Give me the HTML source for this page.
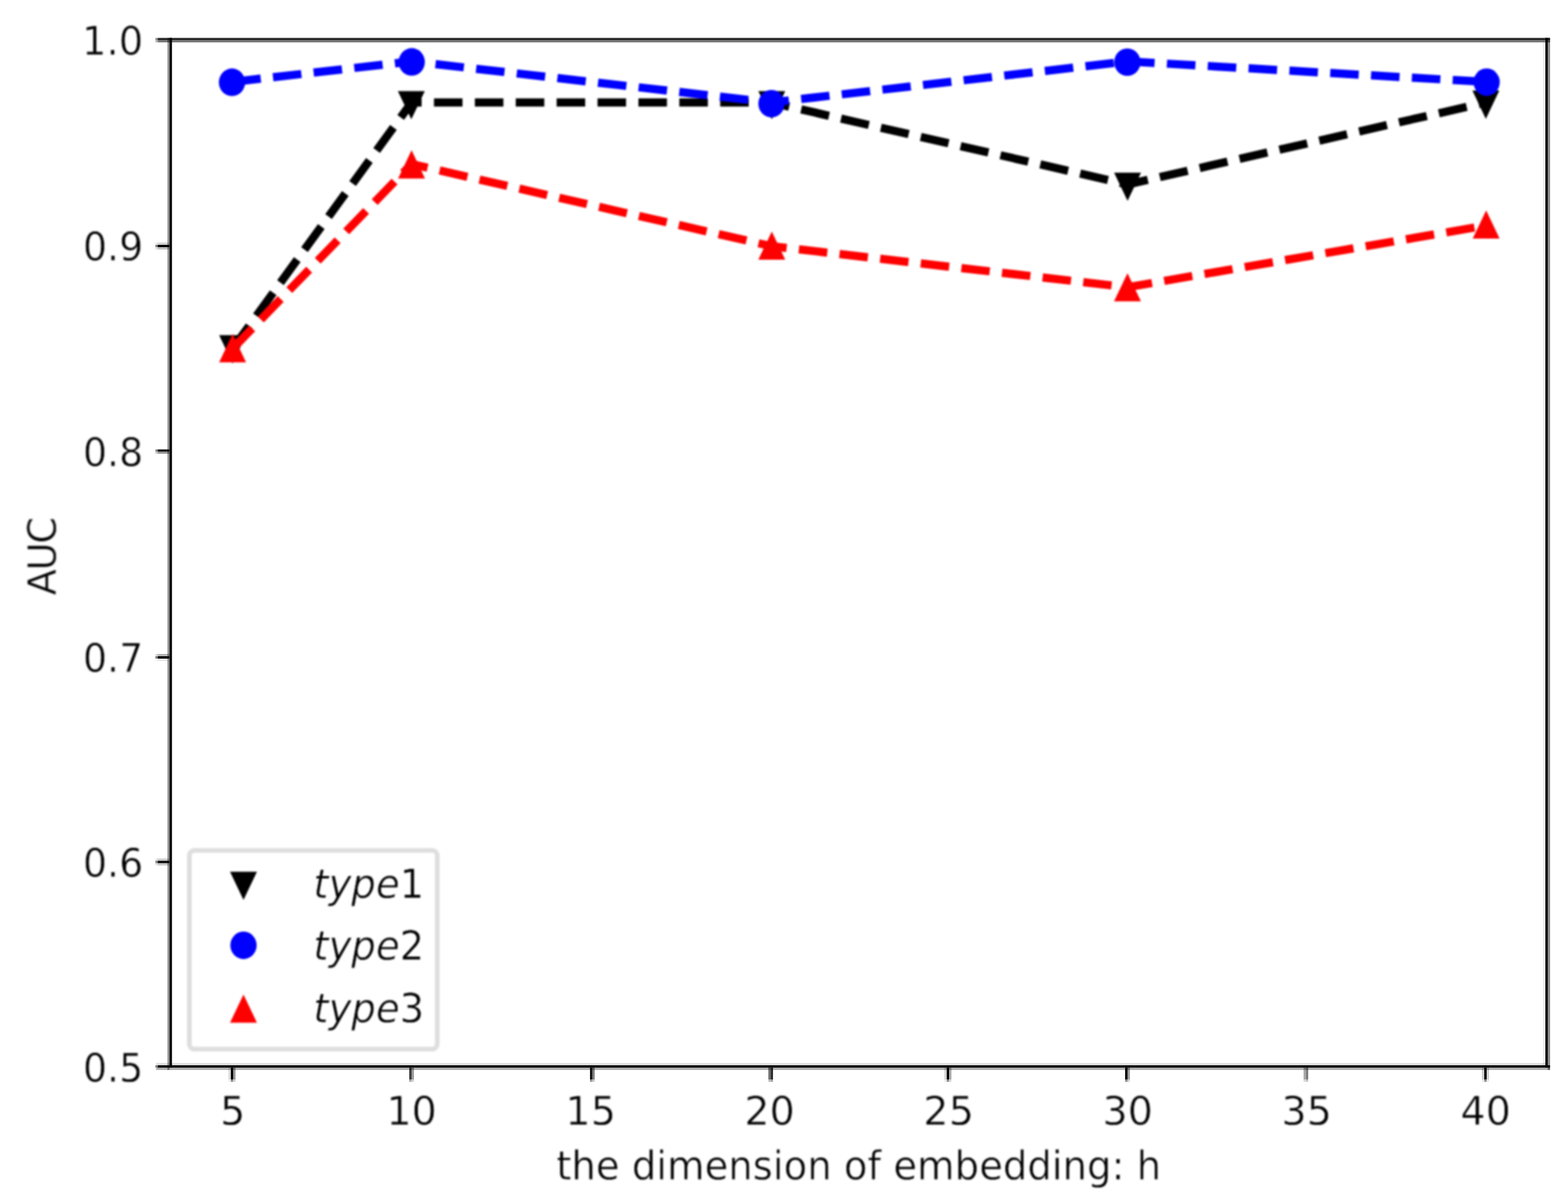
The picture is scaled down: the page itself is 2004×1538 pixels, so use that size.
<!DOCTYPE html>
<html lang="en"><head><meta charset="utf-8"><title>AUC vs the dimension of embedding</title>
<style>html,body{margin:0;padding:0;background:#fff;}body{width:2004px;height:1538px;overflow:hidden;}svg{display:block;}text{font-family:"DejaVu Sans","Liberation Sans",sans-serif;font-size:49.3px;fill:#000;stroke:#fff;stroke-width:0.7px;text-rendering:geometricPrecision;}.it{font-style:italic;}</style></head><body>
<svg width="2004" height="1538" viewBox="0 0 2004 1538" role="img" aria-label="AUC versus the dimension of embedding h for type1, type2 and type3">
<defs><filter id="soft" filterUnits="userSpaceOnUse" x="0" y="0" width="2004" height="1538" color-interpolation-filters="sRGB"><feGaussianBlur stdDeviation="1.1"/></filter><filter id="crisp" filterUnits="userSpaceOnUse" x="0" y="0" width="2004" height="1538" color-interpolation-filters="sRGB"><feGaussianBlur stdDeviation="0.55"/></filter></defs>
<rect x="0" y="0" width="2004" height="1538" fill="#ffffff"/>
<g filter="url(#soft)">
<g id="series">
<polyline points="297.0,446.0 526.0,131.0 985.6,131.0 1441.0,235.9 1899.0,131.0" fill="none" stroke="#000000" stroke-width="10.50" stroke-dasharray="36.48 15.78" stroke-linejoin="round" stroke-linecap="butt"/>
<polygon points="297.3,464.7 280.1,428.6 314.5,428.6" fill="#000000"/>
<polygon points="525.7,152.6 508.5,116.5 542.9,116.5" fill="#000000"/>
<polygon points="986.4,152.6 969.2,116.5 1003.6,116.5" fill="#000000"/>
<polygon points="1441.1,256.8 1423.9,220.7 1458.3,220.7" fill="#000000"/>
<polygon points="1899.0,151.9 1881.8,115.8 1916.2,115.8" fill="#000000"/>
<polyline points="297.0,104.7 526.0,78.5 985.6,131.0 1441.0,78.5 1899.0,104.7" fill="none" stroke="#0000ff" stroke-width="10.50" stroke-dasharray="36.48 15.78" stroke-linejoin="round" stroke-linecap="butt"/>
<ellipse cx="296.5" cy="105.2" rx="16.8" ry="17.6" fill="#0000ff"/>
<ellipse cx="526.2" cy="79.2" rx="16.8" ry="17.6" fill="#0000ff"/>
<ellipse cx="986.0" cy="132.6" rx="16.8" ry="17.6" fill="#0000ff"/>
<ellipse cx="1440.8" cy="79.5" rx="16.8" ry="17.6" fill="#0000ff"/>
<ellipse cx="1900.0" cy="105.1" rx="16.8" ry="17.6" fill="#0000ff"/>
<polyline points="297.0,446.0 526.0,209.7 985.6,314.7 1441.0,367.2 1899.0,288.4" fill="none" stroke="#ff0000" stroke-width="10.50" stroke-dasharray="36.48 15.78" stroke-linejoin="round" stroke-linecap="butt"/>
<polygon points="297.3,427.1 280.1,463.2 314.5,463.2" fill="#ff0000"/>
<polygon points="526.0,192.1 508.8,228.2 543.2,228.2" fill="#ff0000"/>
<polygon points="986.4,295.9 969.2,332.0 1003.6,332.0" fill="#ff0000"/>
<polygon points="1441.0,349.2 1423.8,385.3 1458.2,385.3" fill="#ff0000"/>
<polygon points="1899.4,268.9 1882.2,305.0 1916.6,305.0" fill="#ff0000"/>
</g>
<g id="ticklabels">
<text transform="translate(297.3,1438.4) scale(1.03)" text-anchor="middle">5</text>
<text transform="translate(526.1,1438.4) scale(1.03)" text-anchor="middle">10</text>
<text transform="translate(754.9,1438.4) scale(1.03)" text-anchor="middle">15</text>
<text transform="translate(983.6,1438.4) scale(1.03)" text-anchor="middle">20</text>
<text transform="translate(1212.4,1438.4) scale(1.03)" text-anchor="middle">25</text>
<text transform="translate(1441.2,1438.4) scale(1.03)" text-anchor="middle">30</text>
<text transform="translate(1670.0,1438.4) scale(1.03)" text-anchor="middle">35</text>
<text transform="translate(1898.8,1438.4) scale(1.03)" text-anchor="middle">40</text>
<text transform="translate(183.1,1382.7) scale(1,1.03)" text-anchor="end" textLength="77.2" lengthAdjust="spacingAndGlyphs">0.5</text>
<text transform="translate(183.1,1120.7) scale(1,1.03)" text-anchor="end" textLength="77.2" lengthAdjust="spacingAndGlyphs">0.6</text>
<text transform="translate(183.1,858.6) scale(1,1.03)" text-anchor="end" textLength="77.2" lengthAdjust="spacingAndGlyphs">0.7</text>
<text transform="translate(183.1,595.5) scale(1,1.03)" text-anchor="end" textLength="77.2" lengthAdjust="spacingAndGlyphs">0.8</text>
<text transform="translate(183.1,333.4) scale(1,1.03)" text-anchor="end" textLength="77.2" lengthAdjust="spacingAndGlyphs">0.9</text>
<text transform="translate(183.1,69.9) scale(1,1.03)" text-anchor="end" textLength="78.4">1.0</text>
</g>
<g id="labels">
<text transform="translate(1097.5,1507.8) scale(1,1.04)" text-anchor="middle">the dimension of embedding: h</text>
<text transform="translate(71.3,710.9) rotate(-90) scale(1,1.02)" text-anchor="middle" textLength="100.5" lengthAdjust="spacing">AUC</text>
</g>
<g id="legend">
<rect x="242.0" y="1087.2" width="316.8" height="254.1" rx="6.5" ry="6.5" fill="#ffffff" fill-opacity="0.8" stroke="#dedede" stroke-width="6"/>
<polygon points="311.2,1150.5 294.0,1114.4 328.4,1114.4" fill="#000000"/>
<text transform="translate(400.6,1148) scale(1,1.05)"><tspan class="it">type</tspan>1</text>
<ellipse cx="311.2" cy="1208.6" rx="16.8" ry="17.6" fill="#0000ff"/>
<text transform="translate(400.6,1227) scale(1,1.05)"><tspan class="it">type</tspan>2</text>
<polygon points="311.2,1271.5 294.0,1307.6 328.4,1307.6" fill="#ff0000"/>
<text transform="translate(400.6,1307) scale(1,1.05)"><tspan class="it">type</tspan>3</text>
</g>
</g>
<g id="axes" filter="url(#crisp)">
<rect x="292.00" y="1365.00" width="3.00" height="15.00" fill="#000" fill-opacity="0.15"/>
<rect x="292.00" y="1380.00" width="3.00" height="3.00" fill="#000" fill-opacity="0.07"/>
<rect x="295.00" y="1365.00" width="3.00" height="15.00" fill="#000" fill-opacity="1.0"/>
<rect x="295.00" y="1380.00" width="3.00" height="3.00" fill="#000" fill-opacity="0.45"/>
<rect x="298.00" y="1365.00" width="3.00" height="15.00" fill="#000" fill-opacity="0.4"/>
<rect x="298.00" y="1380.00" width="3.00" height="3.00" fill="#000" fill-opacity="0.18"/>
<rect x="523.00" y="1365.00" width="3.00" height="15.00" fill="#000" fill-opacity="0.75"/>
<rect x="523.00" y="1380.00" width="3.00" height="3.00" fill="#000" fill-opacity="0.34"/>
<rect x="526.00" y="1365.00" width="3.00" height="15.00" fill="#000" fill-opacity="0.4"/>
<rect x="526.00" y="1380.00" width="3.00" height="3.00" fill="#000" fill-opacity="0.18"/>
<rect x="754.00" y="1365.00" width="3.00" height="15.00" fill="#000" fill-opacity="0.9"/>
<rect x="754.00" y="1380.00" width="3.00" height="3.00" fill="#000" fill-opacity="0.41"/>
<rect x="757.00" y="1365.00" width="3.00" height="15.00" fill="#000" fill-opacity="0.5"/>
<rect x="757.00" y="1380.00" width="3.00" height="3.00" fill="#000" fill-opacity="0.23"/>
<rect x="982.00" y="1365.00" width="3.00" height="15.00" fill="#000" fill-opacity="0.55"/>
<rect x="982.00" y="1380.00" width="3.00" height="3.00" fill="#000" fill-opacity="0.25"/>
<rect x="985.00" y="1365.00" width="3.00" height="15.00" fill="#000" fill-opacity="0.8"/>
<rect x="985.00" y="1380.00" width="3.00" height="3.00" fill="#000" fill-opacity="0.36"/>
<rect x="1207.00" y="1365.00" width="3.00" height="15.00" fill="#000" fill-opacity="0.17"/>
<rect x="1207.00" y="1380.00" width="3.00" height="3.00" fill="#000" fill-opacity="0.08"/>
<rect x="1210.00" y="1365.00" width="3.00" height="15.00" fill="#000" fill-opacity="1.0"/>
<rect x="1210.00" y="1380.00" width="3.00" height="3.00" fill="#000" fill-opacity="0.45"/>
<rect x="1213.00" y="1365.00" width="3.00" height="15.00" fill="#000" fill-opacity="0.33"/>
<rect x="1213.00" y="1380.00" width="3.00" height="3.00" fill="#000" fill-opacity="0.15"/>
<rect x="1438.00" y="1365.00" width="3.00" height="15.00" fill="#000" fill-opacity="1.0"/>
<rect x="1438.00" y="1380.00" width="3.00" height="3.00" fill="#000" fill-opacity="0.45"/>
<rect x="1441.00" y="1365.00" width="3.00" height="15.00" fill="#000" fill-opacity="0.4"/>
<rect x="1441.00" y="1380.00" width="3.00" height="3.00" fill="#000" fill-opacity="0.18"/>
<rect x="1666.00" y="1365.00" width="3.00" height="15.00" fill="#000" fill-opacity="0.33"/>
<rect x="1666.00" y="1380.00" width="3.00" height="3.00" fill="#000" fill-opacity="0.15"/>
<rect x="1669.00" y="1365.00" width="3.00" height="15.00" fill="#000" fill-opacity="0.5"/>
<rect x="1669.00" y="1380.00" width="3.00" height="3.00" fill="#000" fill-opacity="0.23"/>
<rect x="1894.00" y="1365.00" width="3.00" height="15.00" fill="#000" fill-opacity="0.2"/>
<rect x="1894.00" y="1380.00" width="3.00" height="3.00" fill="#000" fill-opacity="0.09"/>
<rect x="1897.00" y="1365.00" width="3.00" height="15.00" fill="#000" fill-opacity="1.0"/>
<rect x="1897.00" y="1380.00" width="3.00" height="3.00" fill="#000" fill-opacity="0.45"/>
<rect x="1900.00" y="1365.00" width="3.00" height="15.00" fill="#000" fill-opacity="0.2"/>
<rect x="1900.00" y="1380.00" width="3.00" height="3.00" fill="#000" fill-opacity="0.09"/>
<rect x="198.60" y="1097.50" width="2.90" height="3.00" fill="#000" fill-opacity="0.1"/>
<rect x="201.50" y="1097.50" width="15.00" height="3.00" fill="#000" fill-opacity="0.2"/>
<rect x="198.60" y="1100.50" width="2.90" height="3.00" fill="#000" fill-opacity="0.5"/>
<rect x="201.50" y="1100.50" width="15.00" height="3.00" fill="#000" fill-opacity="1.0"/>
<rect x="198.60" y="1103.50" width="2.90" height="3.00" fill="#000" fill-opacity="0.11"/>
<rect x="201.50" y="1103.50" width="15.00" height="3.00" fill="#000" fill-opacity="0.22"/>
<rect x="198.60" y="836.00" width="2.90" height="3.00" fill="#000" fill-opacity="0.15"/>
<rect x="201.50" y="836.00" width="15.00" height="3.00" fill="#000" fill-opacity="0.3"/>
<rect x="198.60" y="839.00" width="2.90" height="3.00" fill="#000" fill-opacity="0.5"/>
<rect x="201.50" y="839.00" width="15.00" height="3.00" fill="#000" fill-opacity="1.0"/>
<rect x="198.60" y="842.00" width="2.90" height="3.00" fill="#000" fill-opacity="0.05"/>
<rect x="201.50" y="842.00" width="15.00" height="3.00" fill="#000" fill-opacity="0.1"/>
<rect x="198.60" y="574.60" width="2.90" height="2.80" fill="#000" fill-opacity="0.5"/>
<rect x="201.50" y="574.60" width="15.00" height="2.80" fill="#000" fill-opacity="1.0"/>
<rect x="198.60" y="577.40" width="2.90" height="2.80" fill="#000" fill-opacity="0.2"/>
<rect x="201.50" y="577.40" width="15.00" height="2.80" fill="#000" fill-opacity="0.4"/>
<rect x="198.60" y="310.00" width="2.90" height="3.00" fill="#000" fill-opacity="0.09"/>
<rect x="201.50" y="310.00" width="15.00" height="3.00" fill="#000" fill-opacity="0.17"/>
<rect x="198.60" y="313.00" width="2.90" height="3.00" fill="#000" fill-opacity="0.5"/>
<rect x="201.50" y="313.00" width="15.00" height="3.00" fill="#000" fill-opacity="1.0"/>
<rect x="198.60" y="316.00" width="2.90" height="3.00" fill="#000" fill-opacity="0.12"/>
<rect x="201.50" y="316.00" width="15.00" height="3.00" fill="#000" fill-opacity="0.25"/>
<rect x="198.60" y="48.50" width="2.90" height="2.90" fill="#000" fill-opacity="0.45"/>
<rect x="198.60" y="51.40" width="2.90" height="2.80" fill="#000" fill-opacity="0.27"/>
<rect x="201.50" y="48.50" width="1779.60" height="2.90" fill="#000" fill-opacity="0.87"/>
<rect x="201.50" y="51.40" width="1779.60" height="2.80" fill="#000" fill-opacity="0.54"/>
<rect x="199.50" y="1358.90" width="1778.60" height="3.00" fill="#000" fill-opacity="0.12"/>
<rect x="198.60" y="1361.90" width="2.90" height="3.00" fill="#000" fill-opacity="0.5"/>
<rect x="201.50" y="1361.90" width="1779.60" height="3.00" fill="#000" fill-opacity="1"/>
<rect x="199.50" y="1364.90" width="1781.60" height="3.00" fill="#000" fill-opacity="0.33"/>
<rect x="213.95" y="48.50" width="2.60" height="1319.40" fill="#000" fill-opacity="0.4"/>
<rect x="216.55" y="48.50" width="3.20" height="1316.40" fill="#000" fill-opacity="1"/>
<rect x="1972.10" y="54.20" width="3.00" height="1307.70" fill="#000" fill-opacity="0.07"/>
<rect x="1975.10" y="48.50" width="3.00" height="1316.40" fill="#000" fill-opacity="1"/>
<rect x="1978.10" y="48.50" width="3.00" height="1319.40" fill="#000" fill-opacity="0.47"/>
</g>
</svg></body></html>
